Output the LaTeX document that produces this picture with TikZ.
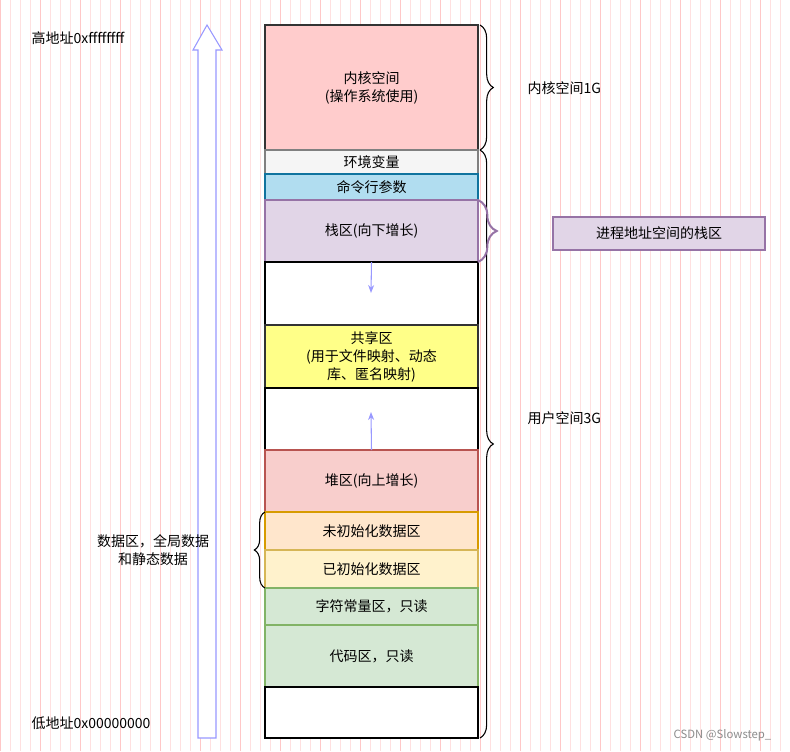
\documentclass[tikz,border=0pt]{standalone}
\usepackage{fontspec}
\setmainfont{Noto Sans CJK SC}
\usetikzlibrary{decorations.pathreplacing,arrows.meta}
\definecolor{kf}{RGB}{255,204,204}
\definecolor{ef}{RGB}{245,245,245}
\definecolor{cs}{RGB}{16,115,158}
\definecolor{cf}{RGB}{177,221,240}
\definecolor{ps}{RGB}{150,115,166}
\definecolor{pf}{RGB}{225,213,231}
\definecolor{yf}{RGB}{255,255,136}
\definecolor{hs}{RGB}{184,84,80}
\definecolor{hf}{RGB}{248,206,204}
\definecolor{os}{RGB}{215,155,0}
\definecolor{of}{RGB}{255,230,204}
\definecolor{ds}{RGB}{214,182,86}
\definecolor{df}{RGB}{255,242,204}
\definecolor{gs}{RGB}{130,179,102}
\definecolor{gf}{RGB}{213,232,212}
\definecolor{ar}{RGB}{153,153,255}
\begin{document}
\begin{tikzpicture}[x=0.75pt,y=-0.75pt,
  box/.style={draw=#1,line width=0.8pt,minimum width=159.75pt,inner sep=0,outer sep=0,anchor=north,align=center,font=\fontsize{10.5}{13.5}\selectfont},
  lbl/.style={font=\fontsize{10.5}{13.5}\selectfont,inner sep=1pt},
  br/.style={decorate,decoration={brace,amplitude=#1},line width=0.8pt}]
\useasboundingbox (0,0) rectangle (790,751);
\fill[white] (0,0) rectangle (790,751);
\draw[red!12,line width=0.3pt] (0,0) grid[step=10] (790,751);
\draw[red!22,line width=0.4pt] (0,0) grid[step=40] (790,751);
\node[box=black!80,fill=kf,minimum height=93.75pt] (k) at (371.5,25) {内核空间\\(操作系统使用)};
\node[box=black!50,fill=ef,minimum height=18pt] (env) at (371.5,150) {环境变量};
\node[box=cs,fill=cf,minimum height=19.5pt] (cmd) at (371.5,174) {命令行参数};
\node[box=ps,fill=pf,minimum height=46.5pt] (stk) at (371.5,200) {栈区(向下增长)};
\node[box=black,fill=white,minimum height=47.25pt] (b1) at (371.5,262) {};
\node[box=black!80,fill=yf,minimum height=47.25pt] (sh) at (371.5,325) {共享区\\(用于文件映射、动态\\库、匿名映射)};
\node[box=black,fill=white,minimum height=46.5pt] (b2) at (371.5,388) {};
\node[box=hs,fill=hf,minimum height=46.5pt] (hp) at (371.5,450) {堆区(向上增长)};
\node[box=os,fill=of,minimum height=28.5pt] (bss) at (371.5,512) {未初始化数据区};
\node[box=ds,fill=df,minimum height=28.5pt] (dat) at (371.5,550) {已初始化数据区};
\node[box=gs,fill=gf,minimum height=27.75pt] (ro) at (371.5,588) {字符常量区，只读};
\node[box=gs,fill=gf,minimum height=46.5pt] (code) at (371.5,625) {代码区，只读};
\node[box=black,fill=white,minimum height=38.25pt] (b3) at (371.5,687) {};
\coordinate (a1) at (371,293); \coordinate (a2) at (371,412);
\draw[-{Stealth[length=6pt]},color=ar,line width=0.8pt] (b1.north) -- (a1);
\draw[-{Stealth[length=6pt]},color=ar,line width=0.8pt] (hp.north) -- (a2);
\draw[color=ar,fill=white,line width=0.8pt] (198,738) -- (198,50) -- (193,50) -- (207,25) -- (222,50) -- (216,50) -- (216,738) -- cycle;
\draw[br=10pt] (480,25) -- (480,150);
\draw[br=10pt] (480,150) -- (480,738);
\draw[br=14pt,color=ps,line width=1.5pt] (478,200) -- (478,262);
\draw[br=8pt] (265,588) -- (265,512);
\node[lbl,anchor=west] (l1) at (526,88) {内核空间1G};
\node[lbl,anchor=west] (l2) at (526,418) {用户空间3G};
\node[lbl,draw=ps,fill=pf,minimum width=159pt,minimum height=24.75pt,line width=0.8pt] (l3) at (659,233.5) {进程地址空间的栈区};
\node[lbl,align=center] (l4) at (153,550) {数据区，全局数据\\和静态数据};
\node[lbl,anchor=west] (hi) at (30,38) {高地址0xffffffff};
\node[lbl,anchor=west] (lo) at (30,723) {低地址0x00000000};
\node[anchor=east,text=black!45,font=\fontsize{8.5}{10}\selectfont] (wm) at (776,735) {CSDN @Slowstep\_};
\end{tikzpicture}
\end{document}
